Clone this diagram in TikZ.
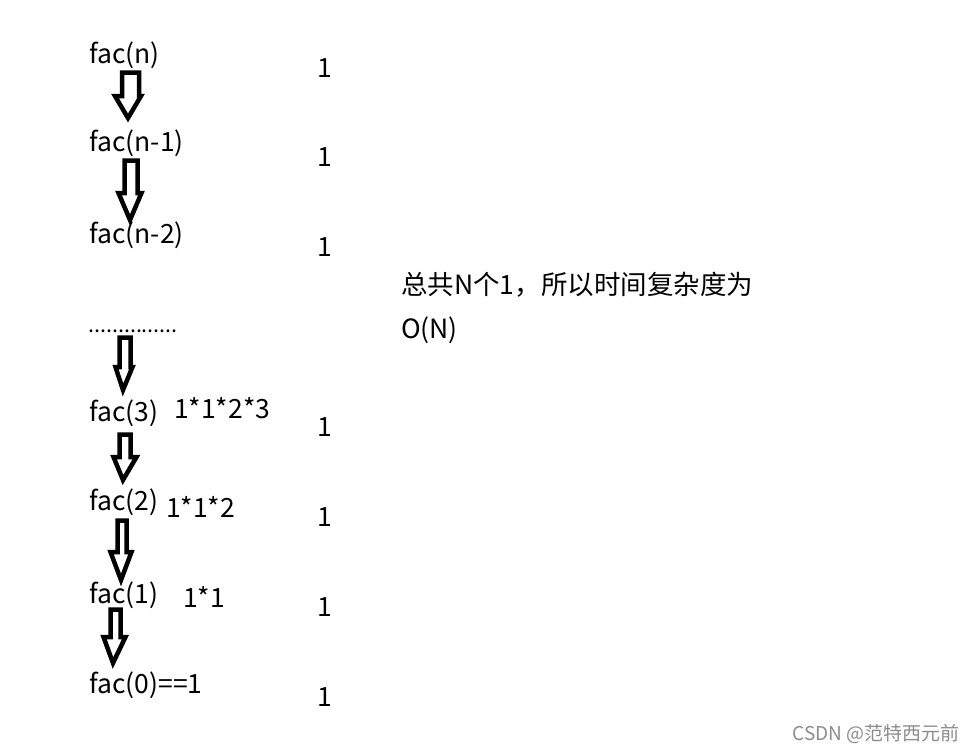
\documentclass[tikz,border=0pt]{standalone}
\usepackage{fontspec}
\setmainfont{Noto Sans CJK SC}
\begin{document}
\begin{tikzpicture}[x=1pt, y=-1pt,
    txt/.style={anchor=base west, inner sep=0pt, font=\fontsize{26.5}{26.5}\selectfont},
    one/.style={txt},
    hollow/.style={line width=4.5pt, line join=miter, draw=black}]
      \useasboundingbox (0, 0) rectangle (975, 753);

      % calls
      \node[txt] (fn)  at (89, 63)  {fac(n)};
      \node[txt] (fn1) at (89, 151) {fac(n-1)};
      \node[txt] (fn2) at (89, 243) {fac(n-2)};
      \node[txt, font=\fontsize{21.5}{21.5}\selectfont] (dots) at (88, 332) {...............};
      \node[txt] (f3)  at (89, 421) {fac(3)};
      \node[txt] (f2)  at (89, 510) {fac(2)};
      \node[txt] (f1)  at (89, 603) {fac(1)};
      \node[txt] (f0)  at (89, 693) {fac(0)==1};

      % partial products
      \node[txt] (p3) at (174, 418) {1*1*2*3};
      \node[txt] (p2) at (166, 517) {1*1*2};
      \node[txt] (p1) at (183, 607) {1*1};

      % cost column
      \foreach \y/\n in {77/c1, 166/c2, 256/c3, 436/c4, 526/c5, 616/c6, 706/c7}
        \node[one] (\n) at (317, \y) {1};

      \node[txt] (sum) at (401, 294) {总共N个1，所以时间复杂度为};
      \node[txt] (big) at (401, 338) {O(N)};

      % block arrows: shaft left/right, head left/right, tip x, top, shoulder, tip y
      \foreach \sl/\sr/\hl/\hr/\tx/\top/\sh/\tip in {%
          122/139/115/141/128/72.5/96/118,%
          124.5/137.5/118.5/141.5/130/160.5/193/220,%
          119.5/130.5/115.5/132.5/123/337.5/367/390,%
          119.5/130.5/113.5/136.5/123/434.5/457/480,%
          117.5/126.5/110.5/131.5/121/520.5/552/580,%
          110.5/120.5/103.5/125.5/113/609.5/637/663}
        \draw[hollow] (\sl, \top) -- (\sr, \top) -- (\sr, \sh) -- (\hr, \sh)
          -- (\tx, \tip) -- (\hl, \sh) -- (\sl, \sh) -- cycle;

      \node[anchor=base east, inner sep=0pt, text=black!45,
        font=\fontsize{19}{19}\selectfont] (mark) at (960, 740) {CSDN @范特西元前};
\end{tikzpicture}
\end{document}
